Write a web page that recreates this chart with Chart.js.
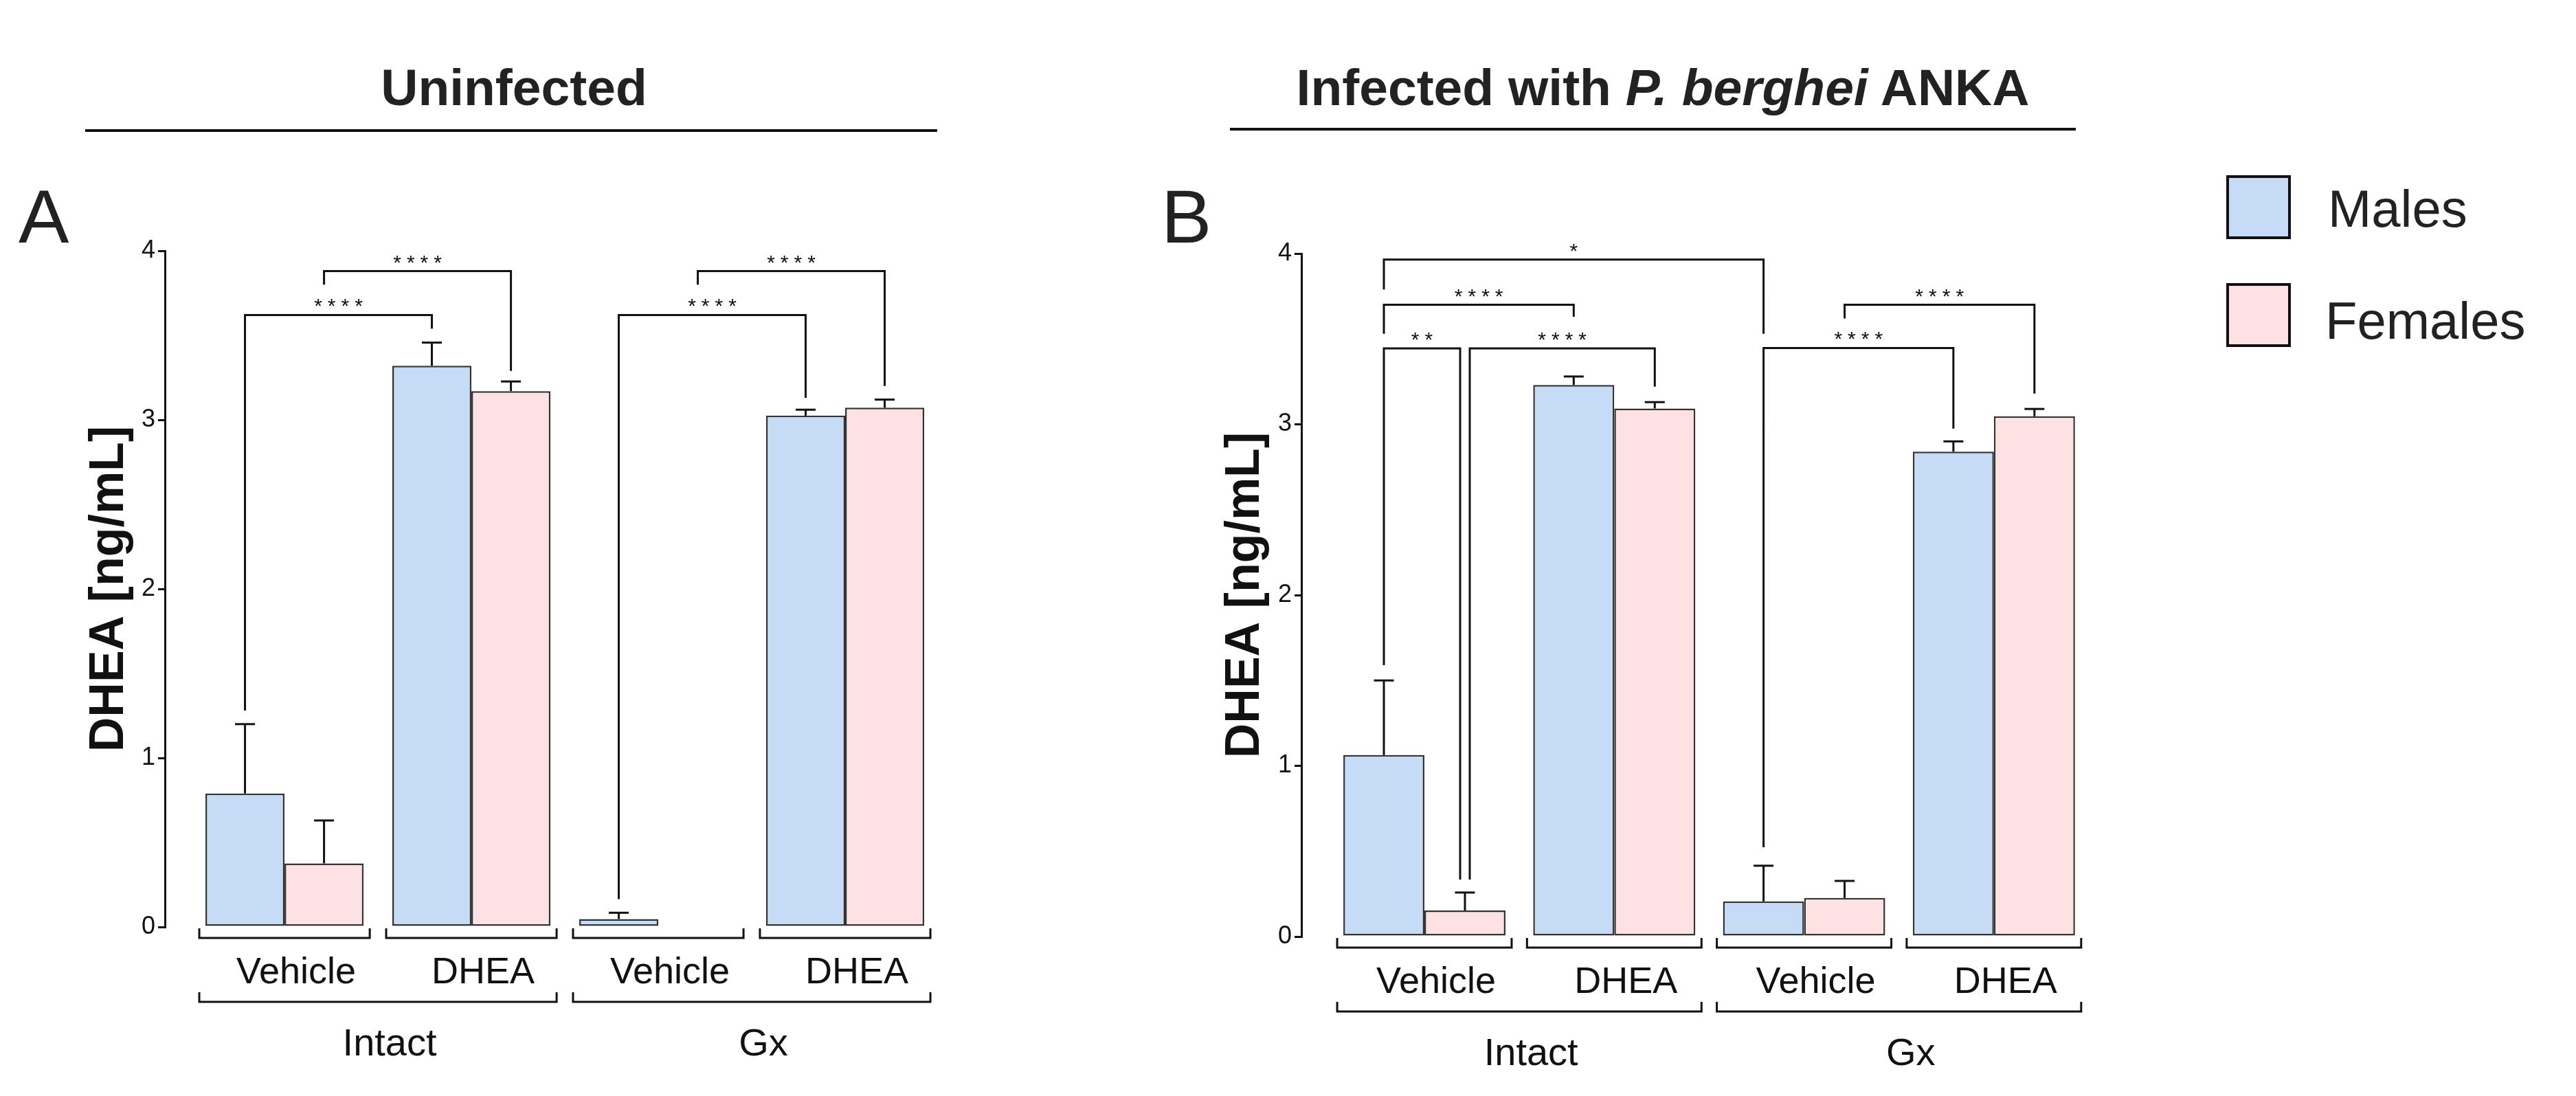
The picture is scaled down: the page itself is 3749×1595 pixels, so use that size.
<!DOCTYPE html>
<html><head><meta charset="utf-8">
<script src="https://cdn.jsdelivr.net/npm/chart.js@4.4.1/dist/chart.umd.min.js"></script>
<style>
html,body{margin:0;padding:0;background:#fff;width:3749px;height:1595px;overflow:hidden;font-family:"Liberation Sans",Arial,sans-serif;color:#222}
.abs{position:absolute;white-space:nowrap}
canvas{position:absolute;top:0}
.rule{position:absolute;background:#111;height:4px}
.box{position:absolute;box-sizing:border-box;border:4px solid #111;width:94px;height:93px}
</style></head><body>
<div class="abs" style="font-weight:bold;font-size:75px;line-height:75px;top:90px;left:0;width:1496px;text-align:center">Uninfected</div>
<div class="rule" style="left:124px;width:1240px;top:188px"></div>
<div class="abs" style="font-weight:bold;font-size:75px;line-height:75px;top:90px;left:1720px;width:1400px;text-align:center">Infected with <i>P. berghei</i> ANKA</div>
<div class="rule" style="left:1790px;width:1231px;top:186px"></div>
<div class="abs" style="font-size:110px;line-height:110px;top:260px;left:27px">A</div>
<div class="abs" style="font-size:110px;line-height:110px;top:260px;left:1690px">B</div>
<div class="box" style="left:3240px;top:255px;background:#c6dbf5"></div>
<div class="abs" style="font-size:76px;line-height:76px;top:266px;left:3388px">Males</div>
<div class="box" style="left:3240px;top:412px;background:#fde1e3"></div>
<div class="abs" style="font-size:76px;line-height:76px;top:429px;left:3384px">Females</div>
<canvas id="cA" width="1700" height="1595" style="left:0"></canvas>
<canvas id="cB" width="1500" height="1595" style="left:1700px"></canvas>
<script>
// ---- data ----
const categories = ['Vehicle', 'DHEA', 'Vehicle', 'DHEA'];
const groupLabels = ['Intact', 'Gx'];
const groupSpans = [[0, 1], [2, 3]];
const seriesNames = ['Males', 'Females'];
const yTicks = [0, 1, 2, 3, 4];
const yTitle = 'DHEA [ng/mL]';

// Uninfected (A)
const uninfMales = [0.79, 3.32, 0.047, 3.025];
const uninfMalesSem = [0.41, 0.137, 0.037, 0.035];
const uninfFemales = [0.376, 3.17, null, 3.072];
const uninfFemalesSem = [0.254, 0.057, null, 0.048];

// Infected with P. berghei ANKA (B)
const infMales = [1.063, 3.23, 0.206, 2.84];
const infMalesSem = [0.437, 0.05, 0.209, 0.06];
const infFemales = [0.153, 3.093, 0.226, 3.047];
const infFemalesSem = [0.105, 0.037, 0.10, 0.043];

// significance brackets: [category, series] endpoints, heights in data units
const uninfSig = [
  {a: [0, 0], b: [1, 0], top: 3.62, aBottom: 1.28, bBottom: 3.54, label: '****'},
  {a: [0, 1], b: [1, 1], top: 3.88, aBottom: 3.80, bBottom: 3.29, label: '****'},
  {a: [2, 0], b: [3, 0], top: 3.62, aBottom: 0.165, bBottom: 3.13, label: '****'},
  {a: [2, 1], b: [3, 1], top: 3.88, aBottom: 3.80, bBottom: 3.20, label: '****'}
];
const infSig = [
  {a: [0, 0], b: [2, 0], top: 3.965, aBottom: 3.79, bBottom: 3.53, label: '*'},
  {a: [0, 0], b: [1, 0], top: 3.70, aBottom: 3.53, bBottom: 3.63, label: '****'},
  {a: [0, 0], b: [0, 1], top: 3.445, aBottom: 1.59, bBottom: 0.334, label: '**'},
  {a: [0, 1], b: [1, 1], top: 3.445, aBottom: 0.334, bBottom: 3.22, label: '****'},
  {a: [2, 0], b: [3, 0], top: 3.447, aBottom: 0.523, bBottom: 2.975, label: '****'},
  {a: [2, 1], b: [3, 1], top: 3.70, aBottom: 3.62, bBottom: 3.18, label: '****'}
];

// ---- styles ----
const BLUE = '#c6dbf5', PINK = '#fde1e3', INK = '#111';
const infLegNudges = {2: [0, -7], 3: [7, 0]};
Chart.defaults.font.family = '"Liberation Sans", Arial, sans-serif';

function barX(chart, cat, ser) {
  const el = chart.getDatasetMeta(ser).data[cat];
  if (el && isFinite(el.x)) return el.x;
  const m = chart.getDatasetMeta(0).data[cat];
  return m.x + m.width * ser;
}
function seg(ctx, pts) {
  ctx.beginPath();
  ctx.moveTo(pts[0][0], pts[0][1]);
  for (let i = 1; i < pts.length; i++) ctx.lineTo(pts[i][0], pts[i][1]);
  ctx.stroke();
}

const annotPlugin = {
  id: 'annot',
  afterDatasetsDraw(chart, args, opts) {
    const ctx = chart.ctx, ys = chart.scales.y;
    ctx.save();
    ctx.strokeStyle = INK; ctx.lineWidth = 3; ctx.lineCap = 'butt'; ctx.lineJoin = 'miter';
    // error bars (upper SEM)
    chart.data.datasets.forEach((ds, di) => {
      const meta = chart.getDatasetMeta(di);
      meta.data.forEach((el, i) => {
        const v = ds.data[i].y, e = ds.sem[i];
        if (v == null || e == null) return;
        const y0 = ys.getPixelForValue(v), y1 = ys.getPixelForValue(v + e);
        seg(ctx, [[el.x, y0], [el.x, y1]]);
        seg(ctx, [[el.x - 14.5, y1], [el.x + 14.5, y1]]);
      });
    });
    // significance brackets
    const nudges = opts.nudges || {};
    (opts.items || []).forEach((s, k) => {
      const n = nudges[k] || [0, 0];
      const xa = barX(chart, s.a[0], s.a[1]) + n[0];
      const xb = barX(chart, s.b[0], s.b[1]) + n[1];
      const yt = ys.getPixelForValue(s.top);
      seg(ctx, [[xa, ys.getPixelForValue(s.aBottom)], [xa, yt], [xb, yt], [xb, ys.getPixelForValue(s.bBottom)]]);
      ctx.fillStyle = INK;
      ctx.font = '30px "Liberation Sans", Arial, sans-serif';
      ctx.textAlign = 'center'; ctx.textBaseline = 'alphabetic';
      const sp = 8;
      if ('letterSpacing' in ctx) ctx.letterSpacing = sp + 'px';
      ctx.fillText(s.label, (xa + xb) / 2 + sp / 2, yt - 3);
      if ('letterSpacing' in ctx) ctx.letterSpacing = '0px';
    });
    ctx.restore();
  },
  afterDraw(chart, args, opts) {
    const ctx = chart.ctx, xs = chart.scales.x, b = chart.chartArea.bottom;
    const bw = chart.getDatasetMeta(0).data[0].width;
    ctx.save();
    ctx.strokeStyle = INK; ctx.lineWidth = 3; ctx.lineCap = 'butt';
    const ends = categories.map((c, i) => {
      const cx = xs.getPixelForValue(i);
      const l = cx - bw - 9, r = cx + bw + 9;
      seg(ctx, [[l, b + 2], [l, b + 16], [r, b + 16], [r, b + 2]]);
      return [l, r];
    });
    ctx.fillStyle = INK;
    ctx.font = '56px "Liberation Sans", Arial, sans-serif';
    ctx.textAlign = 'center'; ctx.textBaseline = 'alphabetic';
    groupSpans.forEach((g, gi) => {
      const l = ends[g[0]][0], r = ends[g[1]][1];
      seg(ctx, [[l, b + 95], [l, b + 109], [r, b + 109], [r, b + 95]]);
      ctx.fillText(groupLabels[gi], (l + r) / 2 + 17, b + 187);
    });
    ctx.restore();
  }
};

function makeChart(id, males, malesSem, females, femalesSem, sig, nudges, g) {
  return new Chart(document.getElementById(id), {
    type: 'bar',
    data: {
      datasets: [
        {label: seriesNames[0], data: males.map((v, i) => ({x: i, y: v})), sem: malesSem,
         backgroundColor: BLUE, borderColor: '#333', borderWidth: 2.5, borderSkipped: false,
         categoryPercentage: g.cp, barPercentage: 1},
        {label: seriesNames[1], data: females.map((v, i) => ({x: i, y: v})), sem: femalesSem,
         backgroundColor: PINK, borderColor: '#333', borderWidth: 2.5, borderSkipped: false,
         categoryPercentage: g.cp, barPercentage: 1}
      ]
    },
    options: {
      responsive: false, devicePixelRatio: 1, animation: false,
      layout: {padding: {left: g.padL, right: g.padR, top: g.padT, bottom: g.padB}},
      plugins: {legend: {display: false}, tooltip: {enabled: false}, annot: {items: sig, nudges: nudges}},
      scales: {
        x: {
          type: 'linear', offset: false, min: g.xmin, max: g.xmax,
          afterBuildTicks: s => { s.ticks = categories.map((c, i) => ({value: i})); },
          afterFit: s => { s.height = 200; },
          ticks: {callback: v => categories[v], font: {size: 54, lineHeight: 1}, color: INK,
                  padding: 40, labelOffset: 17, autoSkip: false, maxRotation: 0},
          grid: {display: false, drawTicks: false}, border: {display: false}
        },
        y: {
          min: 0, max: 4,
          afterFit: s => { s.width = g.yW; },
          afterBuildTicks: s => { s.ticks = yTicks.map(v => ({value: v})); },
          ticks: {font: {size: 36}, color: INK, padding: 4},
          grid: {drawOnChartArea: false, drawTicks: true, tickLength: 10, color: INK, lineWidth: 3},
          border: {display: true, color: INK, width: 3},
          title: {display: true, text: yTitle, font: {size: 70, weight: 'bold', lineHeight: 1.2}, color: INK, padding: 0}
        }
      }
    },
    plugins: [annotPlugin]
  });
}

makeChart('cA', uninfMales, uninfMalesSem, uninfFemales, uninfFemalesSem, uninfSig, {},
  {cp: 0.846, padL: 118, yW: 122, padR: 334, padT: 365, padB: 46, xmin: -0.64, xmax: 3.5});
makeChart('cB', infMales, infMalesSem, infFemales, infFemalesSem, infSig, infLegNudges,
  {cp: 0.854, padL: 71, yW: 123, padR: 160, padT: 369, padB: 32, xmin: -0.648, xmax: 3.5});
</script>
</body></html>
